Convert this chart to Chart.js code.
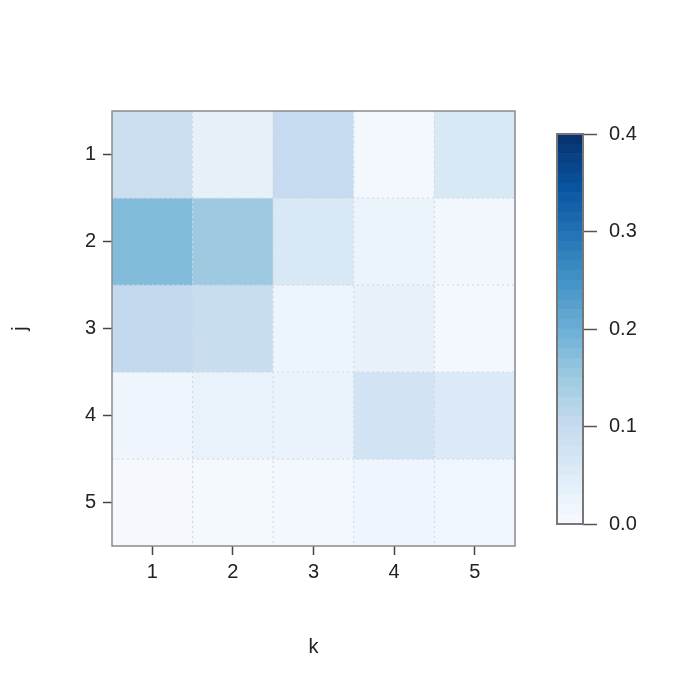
<!DOCTYPE html>
<html lang="en">
<head>
    <meta charset="UTF-8">
    <title>Heatmap j by k</title>
    <script src="https://cdn.jsdelivr.net/npm/chart.js"></script>
    <style>
        body {
            margin: 0;
            background: #ffffff;
        }
        .wrap {
            position: relative;
            width: 688px;
            height: 688px;
        }
        .wrap canvas {
            position: absolute;
            left: 0;
            top: 0;
        }
    </style>
</head>
<body>
    <div class="wrap">
        <canvas id="heat" width="688" height="688"></canvas>
        <canvas id="legend" width="688" height="688"></canvas>
    </div>
    <script>
        // categories
        const kLabels = ['1', '2', '3', '4', '5'];
        const jLabels = [1, 2, 3, 4, 5];

        // cell values, one array per row j
        const row1 = [0.088, 0.035, 0.100, 0.008, 0.060];
        const row2 = [0.176, 0.150, 0.060, 0.025, 0.013];
        const row3 = [0.105, 0.093, 0.020, 0.030, 0.008];
        const row4 = [0.018, 0.028, 0.026, 0.075, 0.055];
        const row5 = [0.005, 0.006, 0.010, 0.018, 0.015];
        const rows = [row1, row2, row3, row4, row5];

        // colour bar
        const legendTicks = [0, 0.1, 0.2, 0.3, 0.4];
        const legendMax = 0.4;
        const legendSteps = 40;

        const FONT = "'Liberation Sans', Arial, sans-serif";
        const FSIZE = 20;
        const blues = ['#f7fbff', '#deebf7', '#c6dbef', '#9ecae1', '#6baed6',
                       '#4292c6', '#2171b5', '#08519c', '#08306b'];

        function hexRgb(h) {
            return [1, 3, 5].map(i => parseInt(h.substr(i, 2), 16));
        }
        function blueColor(v) {
            let t = Math.max(0, Math.min(1, v / legendMax)) * (blues.length - 1);
            let i = Math.min(Math.floor(t), blues.length - 2);
            let f = t - i;
            let a = hexRgb(blues[i]), b = hexRgb(blues[i + 1]);
            let c = a.map((x, n) => Math.round(x + (b[n] - x) * f));
            return 'rgb(' + c.join(',') + ')';
        }

        // dotted cell lines and frame
        const cellLines = {
            id: 'cellLines',
            afterDatasetsDraw(chart) {
                const {ctx, chartArea: a, scales: {x, y}} = chart;
                ctx.save();
                ctx.strokeStyle = '#d2d6da';
                ctx.lineWidth = 1;
                ctx.setLineDash([2, 3]);
                for (let i = 0; i < kLabels.length - 1; i++) {
                    const px = (x.getPixelForValue(i) + x.getPixelForValue(i + 1)) / 2;
                    ctx.beginPath();
                    ctx.moveTo(px, a.top);
                    ctx.lineTo(px, a.bottom);
                    ctx.stroke();
                }
                for (let j = 1; j < jLabels.length; j++) {
                    const py = y.getPixelForValue(j + 0.5);
                    ctx.beginPath();
                    ctx.moveTo(a.left, py);
                    ctx.lineTo(a.right, py);
                    ctx.stroke();
                }
                ctx.setLineDash([]);
                ctx.strokeStyle = '#8a8a8a';
                ctx.lineWidth = 1.5;
                ctx.strokeRect(a.left, a.top, a.right - a.left, a.bottom - a.top);
                ctx.restore();
            }
        };

        const heatSets = rows.map((vals, r) => ({
            data: vals.map(() => [jLabels[r] - 0.5, jLabels[r] + 0.5]),
            backgroundColor: vals.map(blueColor),
            borderWidth: 0,
            grouped: false,
            barPercentage: 1,
            categoryPercentage: 1
        }));

        new Chart(document.getElementById('heat'), {
            type: 'bar',
            data: { labels: kLabels, datasets: heatSets },
            options: {
                responsive: false,
                animation: false,
                layout: { padding: { left: 8, right: 173, top: 111, bottom: 22 } },
                plugins: { legend: { display: false }, tooltip: { enabled: false } },
                scales: {
                    x: {
                        offset: true,
                        afterFit: s => { s.height = 120; },
                        border: { display: false },
                        grid: { drawOnChartArea: false, offset: false, tickLength: 9, tickColor: '#444', tickWidth: 1.5 },
                        ticks: { color: '#222', font: { family: FONT, size: FSIZE }, padding: 5 },
                        title: { display: true, text: 'k', color: '#222', font: { family: FONT, size: FSIZE }, padding: { top: 0, bottom: 7 } }
                    },
                    y: {
                        min: 0.5,
                        max: 5.5,
                        reverse: true,
                        afterBuildTicks: s => { s.ticks = jLabels.map(v => ({ value: v })); },
                        afterFit: s => { s.width = 104; },
                        border: { display: false },
                        grid: { drawOnChartArea: false, tickLength: 9, tickColor: '#444', tickWidth: 1.5 },
                        ticks: { color: '#222', font: { family: FONT, size: FSIZE }, padding: 7 },
                        title: { display: true, text: 'j', color: '#222', font: { family: FONT, size: FSIZE }, padding: { top: 0, bottom: 0 } }
                    }
                }
            },
            plugins: [cellLines]
        });

        // colour bar chart
        const stepSize = legendMax / legendSteps;
        const stepStarts = Array.from({ length: legendSteps }, (_, i) => i * stepSize);

        const barFrame = {
            id: 'barFrame',
            afterDatasetsDraw(chart) {
                const {ctx, chartArea: a} = chart;
                ctx.save();
                ctx.strokeStyle = '#777';
                ctx.lineWidth = 2;
                ctx.strokeRect(a.left, a.top, a.right - a.left, a.bottom - a.top);
                ctx.restore();
            }
        };

        new Chart(document.getElementById('legend'), {
            type: 'bar',
            data: {
                labels: [''],
                datasets: stepStarts.map(s0 => ({
                    data: [[s0, s0 + stepSize]],
                    backgroundColor: blueColor(s0 + stepSize / 2),
                    borderWidth: 0,
                    grouped: false,
                    barPercentage: 1,
                    categoryPercentage: 1
                }))
            },
            options: {
                responsive: false,
                animation: false,
                layout: { padding: { left: 557, right: 25, top: 134, bottom: 164 } },
                plugins: { legend: { display: false }, tooltip: { enabled: false } },
                scales: {
                    x: { display: false },
                    y: {
                        position: 'right',
                        min: 0,
                        max: legendMax,
                        afterBuildTicks: s => { s.ticks = legendTicks.map(v => ({ value: v })); },
                        afterFit: s => { s.width = 80; },
                        border: { display: false },
                        grid: { drawOnChartArea: false, tickLength: 14, tickColor: '#555', tickWidth: 1.5 },
                        ticks: { color: '#222', font: { family: FONT, size: FSIZE }, padding: 12,
                                 callback: v => v.toFixed(1) }
                    }
                }
            },
            plugins: [barFrame]
        });
    </script>
</body>
</html>
